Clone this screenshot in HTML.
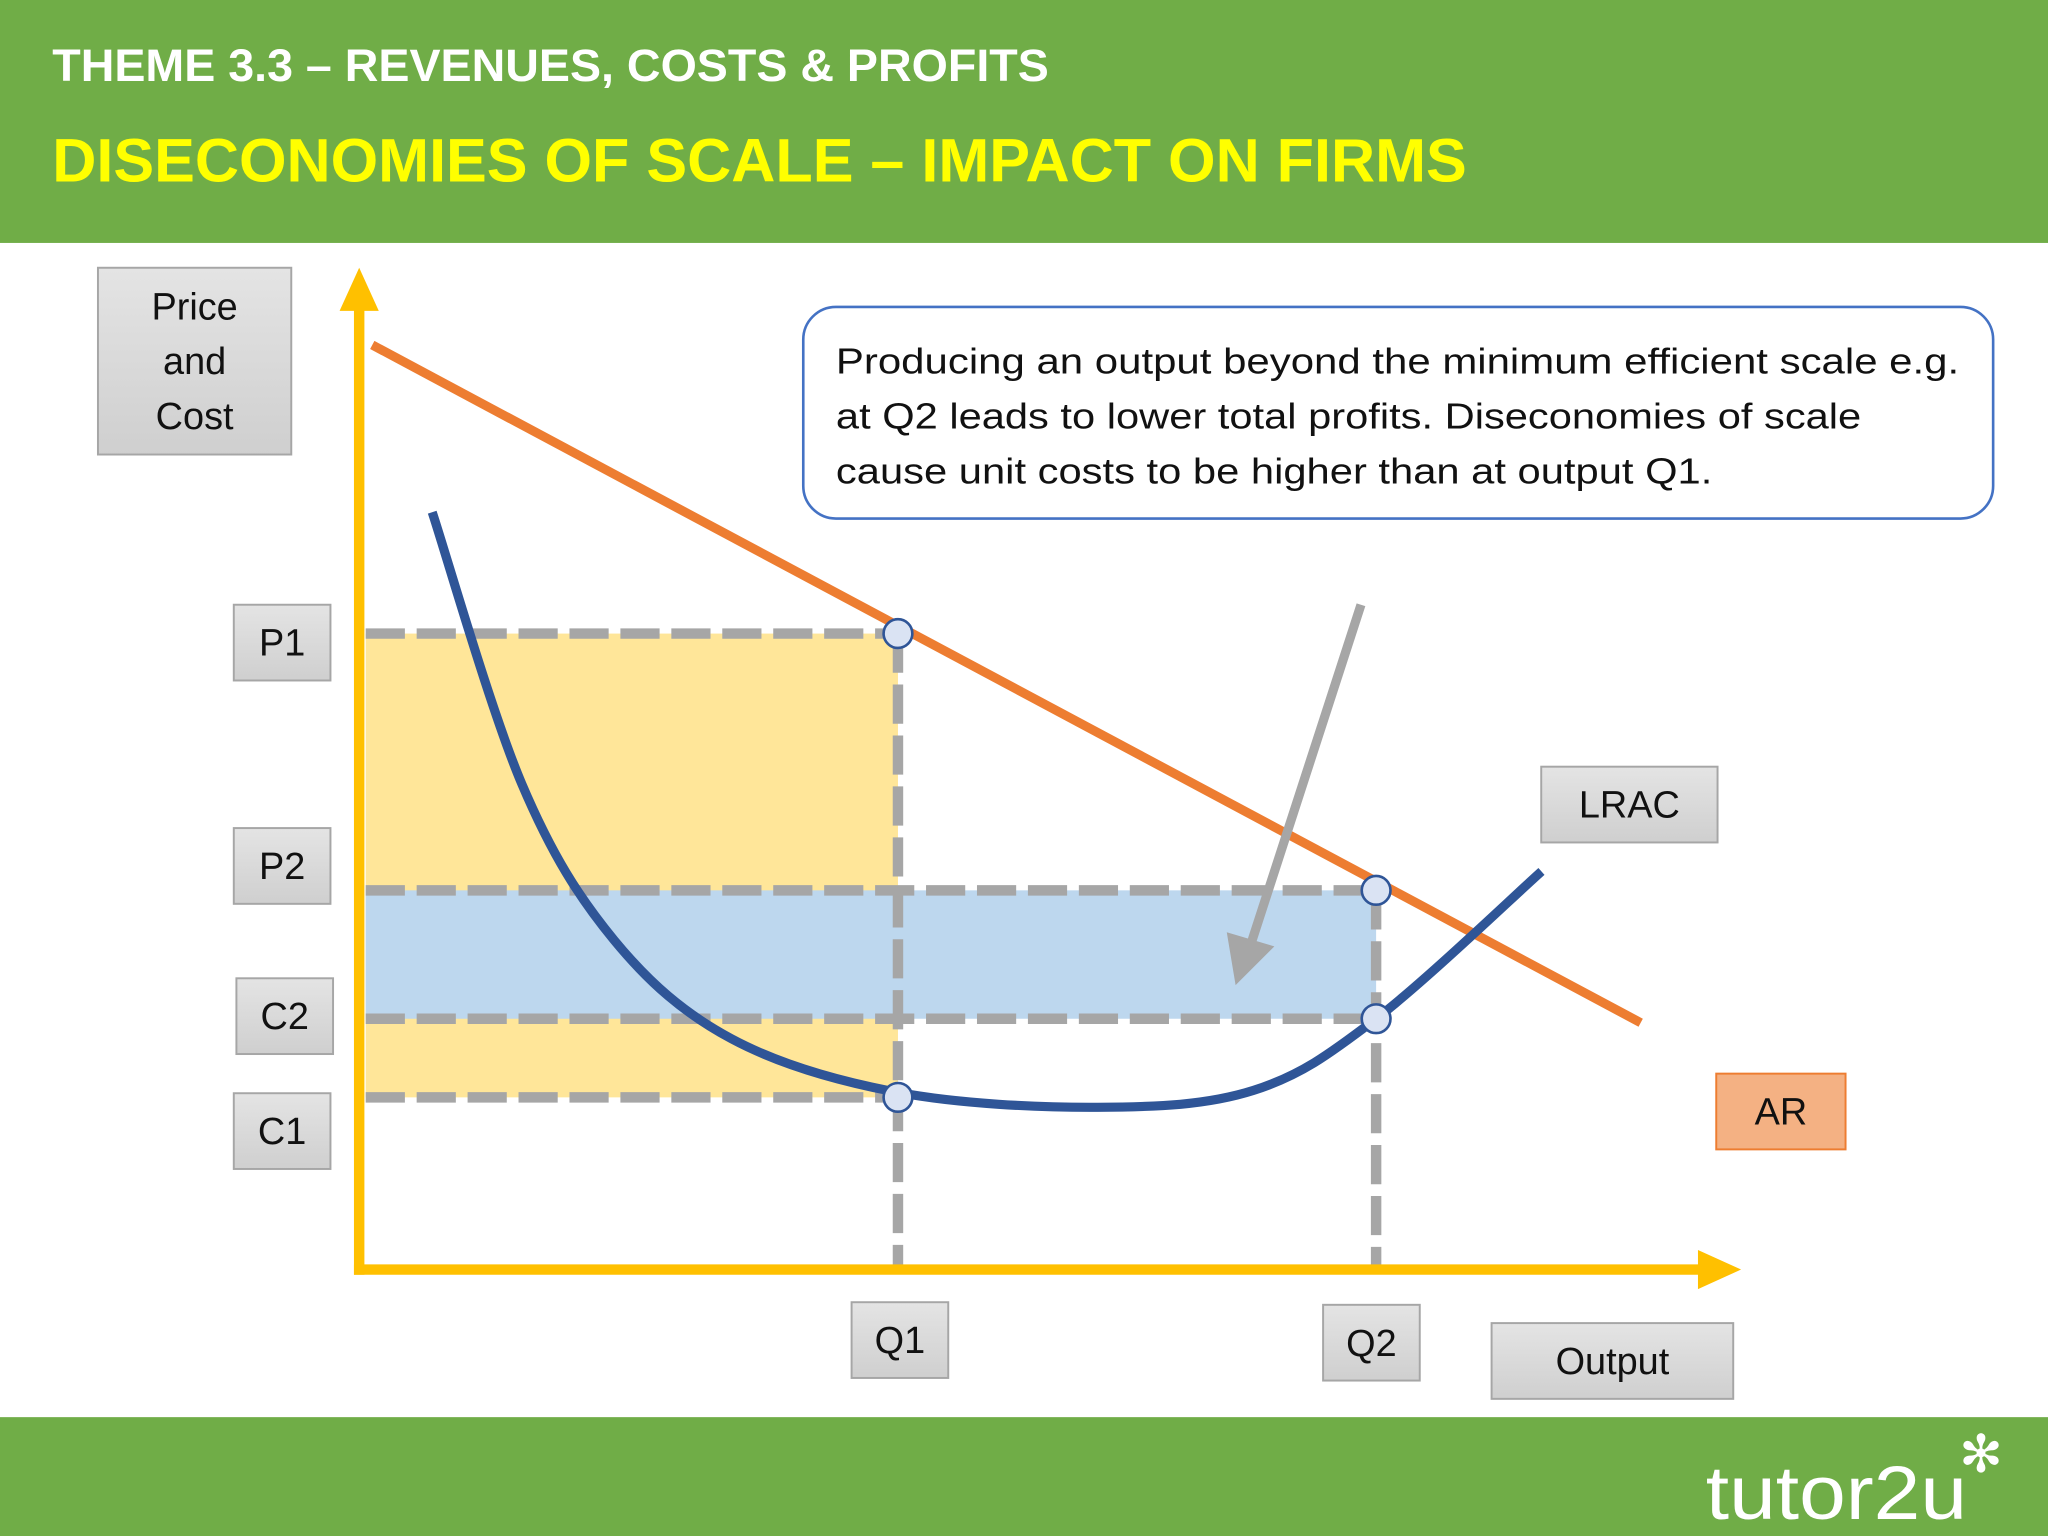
<!DOCTYPE html>
<html><head><meta charset="utf-8"><style>
html,body{margin:0;padding:0;width:2048px;height:1536px;overflow:hidden;background:#fff}
svg{display:block}
text{font-family:"Liberation Sans","DejaVu Sans",sans-serif}
</style></head><body>
<svg id="s" width="2048" height="1536" viewBox="0 0 1568 1176" xmlns="http://www.w3.org/2000/svg">
<defs>
<linearGradient id="gb" x1="0" y1="0" x2="0" y2="1"><stop offset="0" stop-color="#e4e4e4"/><stop offset="1" stop-color="#cfcfcf"/></linearGradient>
</defs>
<rect x="0" y="0" width="1568" height="186" fill="#70AD47"/>
<text x="40" y="62" font-size="35" font-weight="bold" fill="#fff" textLength="763" lengthAdjust="spacingAndGlyphs">THEME 3.3 – REVENUES, COSTS &amp; PROFITS</text>
<text x="40" y="139" font-size="47" font-weight="bold" fill="#FFFF00" textLength="1083" lengthAdjust="spacingAndGlyphs">DISECONOMIES OF SCALE – IMPACT ON FIRMS</text>
<rect x="0" y="1085" width="1568" height="91" fill="#70AD47"/>
<text x="1306" y="1163" font-size="58" fill="#fff" textLength="200" lengthAdjust="spacingAndGlyphs">tutor2u</text>
<text x="1500" y="1127" font-size="40" fill="#fff">✻</text>
<g id="chart"></g>
<rect x="615" y="235" width="911" height="162" rx="25" fill="#fff" stroke="#4472C4" stroke-width="2"/>
<text font-size="28" fill="#111" lengthAdjust="spacingAndGlyphs">
<tspan x="640" y="286" textLength="860" lengthAdjust="spacingAndGlyphs">Producing an output beyond the minimum efficient scale e.g.</tspan>
<tspan x="640" y="328" textLength="785" lengthAdjust="spacingAndGlyphs">at Q2 leads to lower total profits. Diseconomies of scale</tspan>
<tspan x="640" y="370" textLength="671" lengthAdjust="spacingAndGlyphs">cause unit costs to be higher than at output Q1.</tspan>
</text>
</svg>
<script>
// data (axis units 0-100)
const qLabels = ["Q1","Q2"];
const qValues = [39.1, 73.8];
const pLabels = ["P1","P2"];
const pValues = [63.9, 38.1];
const cLabels = ["C1","C2"];
const cValues = [17.3, 25.2];
const arX = [0.95, 93.0];
const arY = [92.9, 24.8];
const lracX = [5.3, 11.8, 18.5, 27.0, 39.1, 53.6, 64.9, 73.8, 85.8];
const lracY = [76.1, 48.8, 33.1, 23.2, 17.8, 16.3, 18.0, 25.2, 40.0];

const NS="http://www.w3.org/2000/svg";
const X0=275,X1=1330,Y0=972,Y1=210;
function sx(v){return X0+(X1-X0)*v/100;}
function sy(v){return Y0-(Y0-Y1)*v/100;}
const g=document.getElementById('chart');
function mk(tag,attrs){const e=document.createElementNS(NS,tag);for(const k in attrs)e.setAttribute(k,attrs[k]);g.appendChild(e);return e;}

const xL=sx(0)+5;
let e=mk('rect',{x:xL,y:sy(pValues[0]),width:sx(qValues[0])-xL,height:sy(cValues[0])-sy(pValues[0]),fill:'#FFE699'});


e=mk('rect',{x:xL,y:sy(pValues[1]),width:sx(qValues[1])-xL,height:sy(cValues[1])-sy(pValues[1]),fill:'#BDD7EE'});


const dash={stroke:'#A6A6A6','stroke-width':8,'stroke-dasharray':'30 9',fill:'none'};
function dl(x1,y1,x2,y2,name){const l=mk('line',Object.assign({x1,y1,x2,y2},dash));

}
dl(xL,sy(pValues[0]),sx(qValues[0]),sy(pValues[0]),'p1-guide');
dl(xL,sy(cValues[0]),sx(qValues[0]),sy(cValues[0]),'c1-guide');
dl(xL,sy(pValues[1]),sx(qValues[1]),sy(pValues[1]),'p2-guide');
dl(xL,sy(cValues[1]),sx(qValues[1]),sy(cValues[1]),'c2-guide');
dl(sx(qValues[0]),sy(pValues[0]),sx(qValues[0]),Y0,'q1-guide');
dl(sx(qValues[1]),sy(pValues[1]),sx(qValues[1]),Y0,'q2-guide');
e=mk('path',{d:`M${X0} ${Y0+4}V${Y1+25}`,stroke:'#FFC000','stroke-width':8,fill:'none'});


e=mk('path',{d:`M${X0-15} ${Y1+28}L${X0} ${Y1-5}L${X0+15} ${Y1+28}Z`,fill:'#FFC000'});


e=mk('path',{d:`M${X0-4} ${Y0}H${X1-25}`,stroke:'#FFC000','stroke-width':8,fill:'none'});


e=mk('path',{d:`M${X1-30} ${Y0-15}L${X1+3} ${Y0}L${X1-30} ${Y0+15}Z`,fill:'#FFC000'});


e=mk('line',{x1:sx(arX[0]),y1:sy(arY[0]),x2:sx(arX[1]),y2:sy(arY[1]),stroke:'#ED7D31','stroke-width':7});


const P=lracX.map((v,i)=>[sx(v),sy(lracY[i])]);
let d=`M${P[0][0]} ${P[0][1]}`;
for(let i=0;i<P.length-1;i++){const p0=P[i-1]||P[i],p1=P[i],p2=P[i+1],p3=P[i+2]||p2;
d+=`C${p1[0]+(p2[0]-p0[0])/6} ${p1[1]+(p2[1]-p0[1])/6} ${p2[0]-(p3[0]-p1[0])/6} ${p2[1]-(p3[1]-p1[1])/6} ${p2[0]} ${p2[1]}`;}
e=mk('path',{d,stroke:'#2F5597','stroke-width':7,fill:'none'});


e=mk('line',{x1:1042,y1:463,x2:957,y2:725,stroke:'#A6A6A6','stroke-width':7});


e=mk('path',{d:'M943 718L948 748L970 726Z',fill:'#A6A6A6',stroke:'#A6A6A6','stroke-width':6});


[[qValues[0],pValues[0]],[qValues[0],cValues[0]],[qValues[1],pValues[1]],[qValues[1],cValues[1]]].forEach(pt=>{
const c=mk('circle',{cx:sx(pt[0]),cy:sy(pt[1]),r:11,fill:'#DAE3F3',stroke:'#2F5597','stroke-width':2});

});
function box(x,y,w,h,lines,name,fill,stroke){
const r=mk('rect',{x,y,width:w,height:h,fill:fill||'url(#gb)',stroke:stroke||'#a6a6a6','stroke-width':1.5});


const n=lines.length;
lines.forEach((t,i)=>{const tx=mk('text',{x:x+w/2,y:y+h/2+10+(i-(n-1)/2)*42,'font-size':29,'text-anchor':'middle',fill:'#111'});tx.textContent=t;

});}
box(75,205,148,143,["Price","and","Cost"],'y-axis-title');
box(179,463,74,58,[pLabels[0]],'label-p1');
box(179,634,74,58,[pLabels[1]],'label-p2');
box(181,749,74,58,[cLabels[1]],'label-c2');
box(179,837,74,58,[cLabels[0]],'label-c1');
box(652,997,74,58,[qLabels[0]],'label-q1');
box(1013,999,74,58,[qLabels[1]],'label-q2');
box(1142,1013,185,58,["Output"],'x-axis-title');
box(1180,587,135,58,["LRAC"],'lrac-label');
box(1314,822,99,58,["AR"],'ar-label','#F4B183','#ED7D31');
</script>
</body></html>
